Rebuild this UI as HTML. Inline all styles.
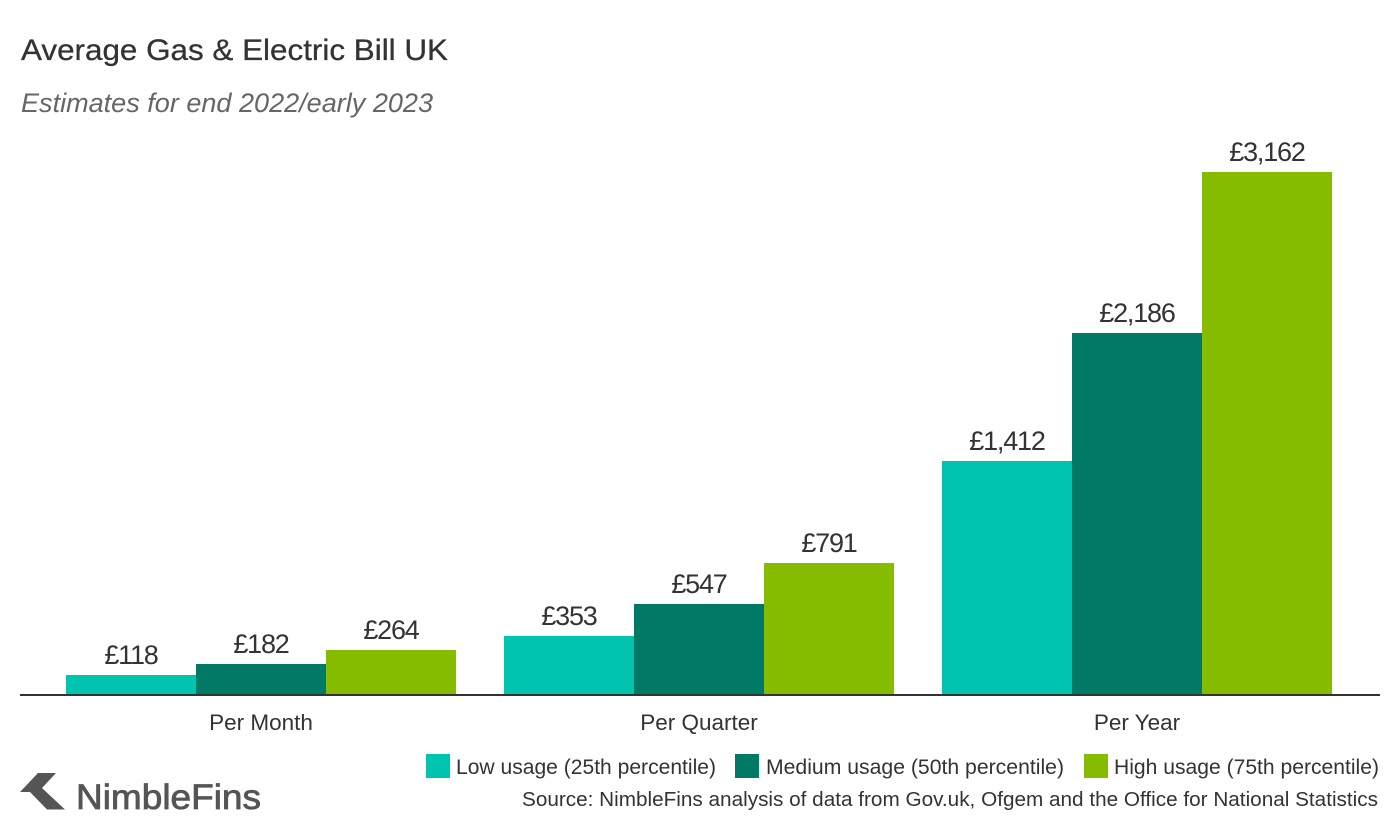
<!DOCTYPE html>
<html lang="en">
<head>
<meta charset="utf-8">
<title>Average Gas &amp; Electric Bill UK</title>
<style>
html,body{margin:0;padding:0;background:#fff;width:1400px;height:840px;overflow:hidden}
svg{display:block}
text{font-family:"Liberation Sans",sans-serif;fill:#333}
</style>
</head>
<body>
<svg id="chart" width="1400" height="840" viewBox="0 0 1400 840">
  <text x="21" y="60" font-size="30" stroke="#333" stroke-width="0.3" textLength="427" lengthAdjust="spacingAndGlyphs">Average Gas &amp; Electric Bill UK</text>
  <text x="21" y="112" font-size="27" font-style="italic" style="fill:#666" textLength="412" lengthAdjust="spacingAndGlyphs">Estimates for end 2022/early 2023</text>
  <g id="bars"></g>
  <g id="value-labels"></g>
  <g id="x-labels"></g>
  <rect x="20" y="694" width="1360" height="2" fill="#333"></rect>
  <rect x="426" y="754" width="24" height="24" fill="#00c4ad"></rect>
  <text x="456" y="774" font-size="21" textLength="260" lengthAdjust="spacingAndGlyphs">Low usage (25th percentile)</text>
  <rect x="735" y="754" width="24" height="24" fill="#007a65"></rect>
  <text x="766" y="774" font-size="21" textLength="298" lengthAdjust="spacingAndGlyphs">Medium usage (50th percentile)</text>
  <rect x="1084" y="754" width="24" height="24" fill="#85bc00"></rect>
  <text x="1114" y="774" font-size="21" textLength="265" lengthAdjust="spacingAndGlyphs">High usage (75th percentile)</text>
  <text x="522" y="806" font-size="20" textLength="856" lengthAdjust="spacingAndGlyphs">Source: NimbleFins analysis of data from Gov.uk, Ofgem and the Office for National Statistics</text>
  <polygon points="20,792 38,773 56,773 42,788 65,809.5 47,809.5 30,792" fill="#555"></polygon>
  <text x="76" y="809" font-size="35" stroke="#555" stroke-width="0.8" style="fill:#555" textLength="185" lengthAdjust="spacingAndGlyphs">NimbleFins</text>
</svg>
<script>
var categories = ['Per Month', 'Per Quarter', 'Per Year'];
var seriesNames = ['low', 'medium', 'high'];
var lowValues = [118, 353, 1412];
var mediumValues = [182, 547, 2186];
var highValues = [264, 791, 3162];

var seriesValues = [lowValues, mediumValues, highValues];
var seriesColors = ['#00c4ad', '#007a65', '#85bc00'];
var NS = 'http://www.w3.org/2000/svg';
var baselineY = 694;
var plotTop = 172;
var maxValue = 3162;
var firstGroupX = 66;
var groupStep = 438;
var barWidth = 130;

function yScale(v) {
  return Math.round(baselineY - (v / maxValue) * (baselineY - plotTop));
}
function xScale(groupIndex, seriesIndex) {
  return firstGroupX + groupIndex * groupStep + seriesIndex * barWidth;
}
function formatValue(v) {
  return '£' + String(v).replace(/\B(?=(\d{3})+$)/g, ',');
}

var barsLayer = document.getElementById('bars');
var valuesLayer = document.getElementById('value-labels');
var xLabelsLayer = document.getElementById('x-labels');

seriesValues.forEach(function (values, s) {
  values.forEach(function (v, g) {
    var top = yScale(v);
    var rect = document.createElementNS(NS, 'rect');
    rect.setAttribute('x', xScale(g, s));
    rect.setAttribute('y', top);
    rect.setAttribute('width', barWidth);
    rect.setAttribute('height', baselineY - top);
    rect.setAttribute('fill', seriesColors[s]);
    
    
    barsLayer.appendChild(rect);

    var label = document.createElementNS(NS, 'text');
    label.setAttribute('x', xScale(g, s) + barWidth / 2);
    label.setAttribute('y', top - 11);
    label.setAttribute('font-size', '27');
    label.setAttribute('letter-spacing', '-1.2');
    label.setAttribute('text-anchor', 'middle');
    label.textContent = formatValue(v);
    
    
    valuesLayer.appendChild(label);
  });
});

categories.forEach(function (c, g) {
  var t = document.createElementNS(NS, 'text');
  t.setAttribute('x', xScale(g, 1) + barWidth / 2);
  t.setAttribute('y', 730);
  t.setAttribute('font-size', '22.5');
  t.setAttribute('text-anchor', 'middle');
  t.textContent = c;
  
  
  xLabelsLayer.appendChild(t);
});
</script>
</body>
</html>
